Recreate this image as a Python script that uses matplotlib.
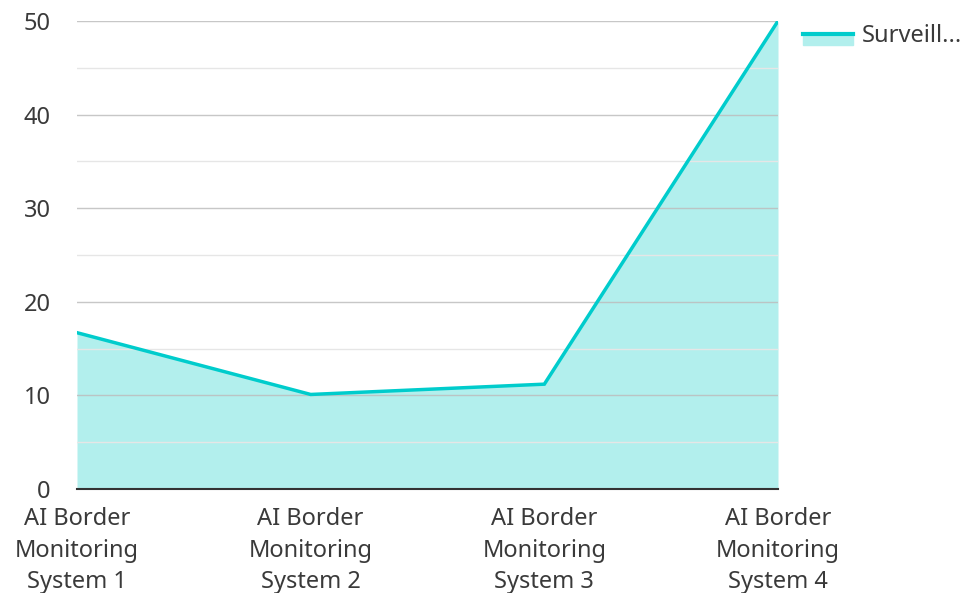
import matplotlib
matplotlib.use("Agg")
import matplotlib.pyplot as plt
from matplotlib.patches import Rectangle
from matplotlib.lines import Line2D

plt.rcParams['font.family'] = ['Noto Sans', 'DejaVu Sans']

categories = ["AI Border\nMonitoring\nSystem 1", "AI Border\nMonitoring\nSystem 2",
              "AI Border\nMonitoring\nSystem 3", "AI Border\nMonitoring\nSystem 4"]
values = [16.7, 10.1, 11.2, 50.0]
series_name = "Surveill..."
y_ticks = [0, 10, 20, 30, 40, 50]

line_color = "#00CCCC"
fill_color = "#B2EFED"
text_color = "#3a3a3a"

W, H = 968, 593
fig = plt.figure(figsize=(W / 100, H / 100), dpi=100)
ax = fig.add_axes([77 / W, 1 - 489 / H, (778 - 77) / W, (489 - 21) / H])

x = list(range(len(categories)))
ax.fill_between(x, 0, values, color=fill_color, alpha=1.0, zorder=1, linewidth=0)
ax.plot(x, values, color=line_color, linewidth=2.5, zorder=3, solid_joinstyle='miter')

# gridlines
for v in range(5, 50, 10):
    ax.axhline(v, color="#e6e6e6", linewidth=1, zorder=2)
for v in y_ticks[1:]:
    ax.axhline(v, color="#bdbdbd", linewidth=1, zorder=2, alpha=0.85)

ax.set_xlim(0, 3)
ax.set_ylim(0, 50)
ax.set_yticks(y_ticks)
ax.set_xticks(x)
ax.set_xticklabels(categories, fontsize=17, color=text_color, linespacing=1.42)
ax.tick_params(axis='y', length=0, pad=19, labelsize=17, labelcolor=text_color)
ax.tick_params(axis='x', length=0, pad=13)

for s in ['top', 'right', 'left']:
    ax.spines[s].set_visible(False)
ax.spines['bottom'].set_color("#333333")
ax.spines['bottom'].set_linewidth(1.5)
ax.spines['bottom'].set_zorder(4)

# legend (manual)
fig.patches.append(Rectangle((803 / W, 1 - 45 / H), 50 / W, 12 / H,
                             transform=fig.transFigure, color=fill_color, figure=fig))
fig.lines.append(Line2D([803 / W, 853 / W], [1 - 34 / H, 1 - 34 / H],
                        transform=fig.transFigure, color=line_color, linewidth=3, figure=fig))
fig.text(862 / W, 1 - 36 / H, series_name, fontsize=17, color=text_color, va='center', ha='left')

fig.savefig("out.png", dpi=100)
